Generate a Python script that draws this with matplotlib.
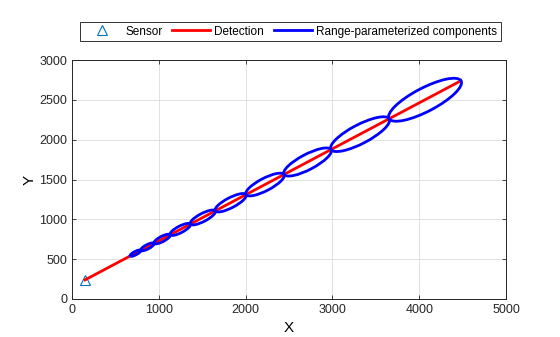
import numpy as np
import matplotlib.pyplot as plt
from matplotlib.patches import Ellipse
from matplotlib.lines import Line2D

plt.rcParams['font.family'] = ['Liberation Sans', 'DejaVu Sans']

# sensor and detection
sensor_pos = [150, 240]
det_az = 30.0          # degrees
det_range = 5000.0

# range-parameterized components: mean range, half-length along range, half-width across
comp_range = [671, 829, 1025, 1267, 1567, 1937, 2394, 2960, 3659, 4523]
comp_halflen = [71, 88, 108, 134, 166, 205, 253, 313, 387, 478]
comp_halfwid = [21, 27, 33, 41, 50, 62, 77, 95, 117, 145]

fig = plt.figure(figsize=(5.6, 3.37), dpi=100)
ax = fig.add_axes([0.1286, 0.1128, 0.775, 0.709])

c, s = np.cos(np.radians(det_az)), np.sin(np.radians(det_az))

ax.plot(sensor_pos[0], sensor_pos[1], '^', mfc='none', mec='#0072BD',
        ms=7, mew=0.8, zorder=3)
ax.plot([sensor_pos[0], sensor_pos[0] + det_range * c],
        [sensor_pos[1], sensor_pos[1] + det_range * s],
        color='red', lw=2, zorder=3)

for r, a, b in zip(comp_range, comp_halflen, comp_halfwid):
    e = Ellipse((sensor_pos[0] + r * c, sensor_pos[1] + r * s), 2 * a, 2 * b,
                angle=det_az, fill=False, ec='blue', lw=2, zorder=4)
    ax.add_patch(e)

ax.set_xlim(0, 5000)
ax.set_ylim(0, 3000)
ax.set_xticks(np.arange(0, 5001, 1000))
ax.set_yticks(np.arange(0, 3001, 500))
ax.grid(True, color='#dcdcdc', lw=0.6)
ax.set_axisbelow(True)
ax.tick_params(direction='in', top=True, right=True, labelsize=9,
               length=3, width=0.6, colors='#262626')
for sp in ax.spines.values():
    sp.set_linewidth(0.7)
    sp.set_color('#262626')
ax.set_xlabel('X', fontsize=11, labelpad=4)
ax.set_ylabel('Y', fontsize=11, labelpad=2)

handles = [
    Line2D([], [], marker='^', ls='none', mfc='none', mec='#0072BD', ms=7, mew=0.8),
    Line2D([], [], color='red', lw=2),
    Line2D([], [], color='blue', lw=2),
]
labels = ['Sensor', 'Detection', 'Range-parameterized components']
leg = fig.legend(handles, labels, loc='center', bbox_to_anchor=(0.518, 0.9065),
                 ncol=3, fontsize=8.5, frameon=True, fancybox=False,
                 edgecolor='black', borderpad=0.3, handlelength=3.2,
                 handletextpad=0.35, columnspacing=0.85, borderaxespad=0)
leg.get_frame().set_linewidth(0.7)

fig.savefig('out.png', dpi=100)
